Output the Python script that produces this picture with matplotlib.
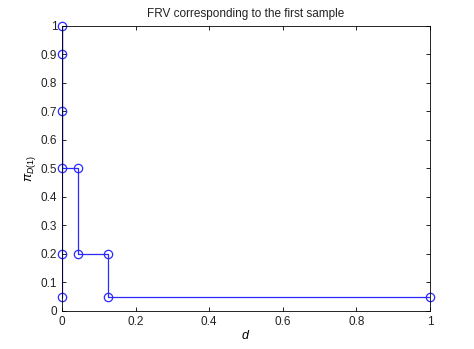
import matplotlib
matplotlib.use("Agg")
import matplotlib.pyplot as plt
import numpy as np

plt.rcParams['font.family'] = ['Liberation Sans', 'DejaVu Sans']
plt.rcParams['mathtext.fontset'] = 'custom'
plt.rcParams['mathtext.rm'] = 'Liberation Sans'
plt.rcParams['mathtext.it'] = 'Liberation Sans:italic'

# staircase path of the FRV
d_path = [0, 0, 0, 0, 0, 0, 0.042, 0.042, 0.125, 0.125, 1]
pi_path = [0.05, 0.2, 1, 0.9, 0.7, 0.5, 0.5, 0.2, 0.2, 0.05, 0.05]

# marker points
d_pts = [0, 0, 0, 0, 0, 0, 0.042, 0.042, 0.125, 0.125, 1]
pi_pts = [1, 0.9, 0.7, 0.5, 0.2, 0.05, 0.5, 0.2, 0.2, 0.05, 0.05]

xticks = [0, 0.2, 0.4, 0.6, 0.8, 1]
yticks = np.round(np.arange(0, 1.01, 0.1), 1)

fig = plt.figure(figsize=(4.74, 3.49), dpi=100)
ax = fig.add_axes([0.131, 0.109, 0.776, 0.817])

blue = '#2a2aff'
ax.plot(d_path, pi_path, color=blue, lw=0.9)
ax.plot(d_pts, pi_pts, 'o', mfc='none', mec=blue, ms=6, mew=0.9, clip_on=False)

ax.set_xlim(0, 1)
ax.set_ylim(0, 1)
ax.set_xticks(xticks)
ax.set_xticklabels(['0', '0.2', '0.4', '0.6', '0.8', '1'])
ax.set_yticks(yticks)
ax.set_yticklabels(['0'] + [f'{v:g}' for v in yticks[1:]])
ax.tick_params(direction='in', top=True, right=True, labelsize=8.5,
               labelcolor='#222222', length=3, width=0.6)
for s in ax.spines.values():
    s.set_linewidth(0.6)

ax.set_title('FRV corresponding to the first sample', fontsize=8.5, color='#222222')
ax.set_xlabel('$d$', fontsize=9, labelpad=1)
ax.set_ylabel(r'$\pi_{D(1)}$', fontsize=9, labelpad=2)

fig.savefig('out.png', dpi=100)
